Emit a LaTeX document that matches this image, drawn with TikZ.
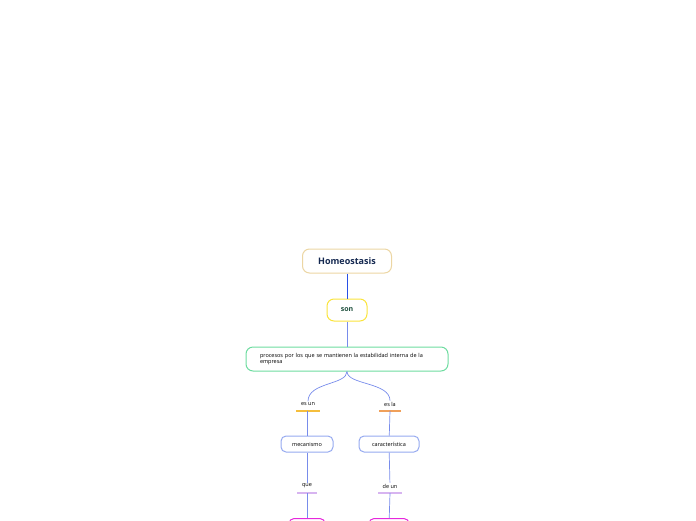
\documentclass[tikz,border=0pt]{standalone}
\usepackage{fontspec}
\setmainfont{Open Sans}
\definecolor{cblue}{RGB}{120,140,235}
\definecolor{hblue}{RGB}{40,80,230}
\begin{document}
\begin{tikzpicture}[x=1pt,y=-1pt,
  box/.style={draw,rounded corners=7pt,fill=white,line width=1pt,inner sep=0pt,align=center},
  lbl/.style={font=\fontsize{5.5}{6}\selectfont,inner sep=1pt},
  conn/.style={color=cblue,line width=0.7pt}]
\useasboundingbox (0,0) rectangle (696,520);
\node[box,draw={rgb,255:red,236;green,214;blue,163},minimum width=89,minimum height=24,font=\bfseries\fontsize{9}{10}\selectfont,text={rgb,255:red,20;green,40;blue,80}] (h) at (347,261) {Homeostasis};
\node[box,draw={rgb,255:red,250;green,228;blue,60},minimum width=40,minimum height=22,font=\bfseries\fontsize{7}{8}\selectfont,text={rgb,255:red,30;green,80;blue,60}] (s) at (347,310) {son};
\node[box,draw={rgb,255:red,110;green,220;blue,160},minimum width=202,minimum height=24,font=\fontsize{5.5}{6.5}\selectfont,align=left,text width=174] (p) at (347,359) {procesos por los que se mantienen la estabilidad interna de la empresa};
\node[lbl] (e1) at (308,404) {es un};
\node[lbl] (e2) at (390,404) {es la};
\draw[draw={rgb,255:red,245;green,190;blue,60},line width=1.2pt] (296,411) -- (320,411);
\draw[draw={rgb,255:red,240;green,160;blue,90},line width=1.2pt] (379,411) -- (401,411);
\node[box,rounded corners=5pt,draw={rgb,255:red,150;green,170;blue,240},minimum width=52,minimum height=16,font=\fontsize{5.5}{6}\selectfont] (m) at (307,444) {mecanismo};
\node[box,rounded corners=5pt,draw={rgb,255:red,150;green,170;blue,240},minimum width=60,minimum height=16,font=\fontsize{5.5}{6}\selectfont] (c) at (389,444) {característica};
\node[lbl] (q) at (307,486) {que};
\node[lbl] (d) at (390,486) {de un};
\draw[draw={rgb,255:red,215;green,180;blue,240},line width=1.2pt] (297,493) -- (317,493);
\draw[draw={rgb,255:red,215;green,180;blue,240},line width=1.2pt] (378,493) -- (402,493);
\node[box,rounded corners=5pt,draw={rgb,255:red,230;green,40;blue,220},minimum width=36,minimum height=14,anchor=north] (b1) at (307,518) {};
\node[box,rounded corners=5pt,draw={rgb,255:red,230;green,40;blue,220},minimum width=40,minimum height=14,anchor=north] (b2) at (389,518) {};
\draw[color=hblue,line width=0.9pt] (h) -- (s);
\draw[conn] (s) -- (p);
\draw[conn] (p.south) .. controls (347,385) and (308,382) .. (e1.north);
\draw[conn] (p.south) .. controls (347,385) and (390,382) .. (e2.north);
\draw[conn] (307,411) -- (m);
\draw[conn] (390,411) -- (c);
\draw[conn] (m) -- (q);
\draw[conn] (c) -- (d);
\draw[conn] (307,493) -- (b1);
\draw[conn] (390,493) -- (b2);
\end{tikzpicture}
\end{document}
